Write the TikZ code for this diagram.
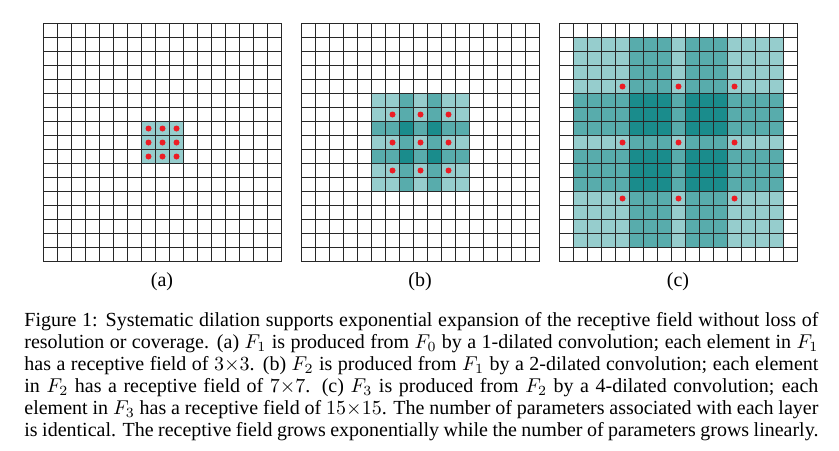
\documentclass[tikz,border=0pt]{standalone}
\usepackage[no-math]{fontspec}
\setmainfont{Liberation Serif}
\usepackage{xcolor}
\usepackage{tikz}
\usetikzlibrary{positioning}

\definecolor{tealLight}{RGB}{150,205,205}
\definecolor{tealMid}{RGB}{88,172,172}
\definecolor{tealDark}{RGB}{26,140,140}
\definecolor{dotRed}{RGB}{236,28,36}
\definecolor{gridGray}{RGB}{40,40,40}

\begin{document}
\begin{tikzpicture}[
  x=0.5pt, y=-0.5pt,
  gridline/.style={draw=gridGray, line width=0.6pt, line cap=rect},
  cov1/.style={fill=tealLight},
  cov2/.style={fill=tealMid},
  cov4/.style={fill=tealDark},
  dot/.style={fill=dotRed},
  sublabel/.style={font=\fontsize{10}{12}\selectfont, inner sep=0pt},
  caption/.style={font=\fontsize{10}{11}\selectfont, inner sep=0pt, text width=397pt, align=justify}
]
\useasboundingbox (0,0) rectangle (839,450);

\def\cs{14}
\def\xa{43.5}
\def\xb{301.5}
\def\xc{559.5}
\def\ytop{23.5}

% receptive fields, shaded by overlap count
\foreach \c in {7,8,9}
  \foreach \r in {7,8,9}
    \fill[cov1] (\xa+\c*\cs,\ytop+\r*\cs) rectangle ++(\cs,\cs);

\foreach \c/\wc in {5/1,6/1,7/2,8/1,9/2,10/1,11/1}
  \foreach \r/\wr in {5/1,6/1,7/2,8/1,9/2,10/1,11/1} {
    \pgfmathtruncatemacro{\w}{\wc*\wr}
    \fill[cov\w] (\xb+\c*\cs,\ytop+\r*\cs) rectangle ++(\cs,\cs);
  }

\foreach \c/\wc in {1/1,2/1,3/1,4/1,5/2,6/2,7/2,8/1,9/2,10/2,11/2,12/1,13/1,14/1,15/1}
  \foreach \r/\wr in {1/1,2/1,3/1,4/1,5/2,6/2,7/2,8/1,9/2,10/2,11/2,12/1,13/1,14/1,15/1} {
    \pgfmathtruncatemacro{\w}{\wc*\wr}
    \fill[cov\w] (\xc+\c*\cs,\ytop+\r*\cs) rectangle ++(\cs,\cs);
  }

% 17x17 grids
\foreach \px in {\xa,\xb,\xc}
  \foreach \k in {0,...,17} {
    \draw[gridline] (\px+\k*\cs,\ytop) -- ++(0,17*\cs);
    \draw[gridline] (\px,\ytop+\k*\cs) -- ++(17*\cs,0);
  }

% kernel taps
\foreach \c in {7,8,9}
  \foreach \r in {7,8,9}
    \fill[dot] (\xa+\c*\cs+0.5*\cs,\ytop+\r*\cs+0.5*\cs) circle[radius=1.5pt];
\foreach \c in {6,8,10}
  \foreach \r in {6,8,10}
    \fill[dot] (\xb+\c*\cs+0.5*\cs,\ytop+\r*\cs+0.5*\cs) circle[radius=1.5pt];
\foreach \c in {4,8,12}
  \foreach \r in {4,8,12}
    \fill[dot] (\xc+\c*\cs+0.5*\cs,\ytop+\r*\cs+0.5*\cs) circle[radius=1.5pt];

\node[sublabel] (labA) at (162,282) {(a)};
\node[sublabel] (labB) at (420,282) {(b)};
\node[sublabel] (labC) at (678,282) {(c)};

\node[caption, anchor=base west] (cap) at (24,326.7) {Figure 1: Systematic dilation supports exponential expansion of the receptive field without loss of\linebreak
resolution or coverage. (a) $F_1$ is produced from $F_0$ by a 1-dilated convolution; each element in $F_1$\linebreak
has a receptive field of $3{\times}3$. (b) $F_2$ is produced from $F_1$ by a 2-dilated convolution; each element\linebreak
in $F_2$ has a receptive field of $7{\times}7$. (c) $F_3$ is produced from $F_2$ by a 4-dilated convolution; each\linebreak
element in $F_3$ has a receptive field of $15{\times}15$. The number of parameters associated with each layer\linebreak
is identical. The receptive field grows exponentially while the number of parameters grows linearly.};

\end{tikzpicture}
\end{document}
